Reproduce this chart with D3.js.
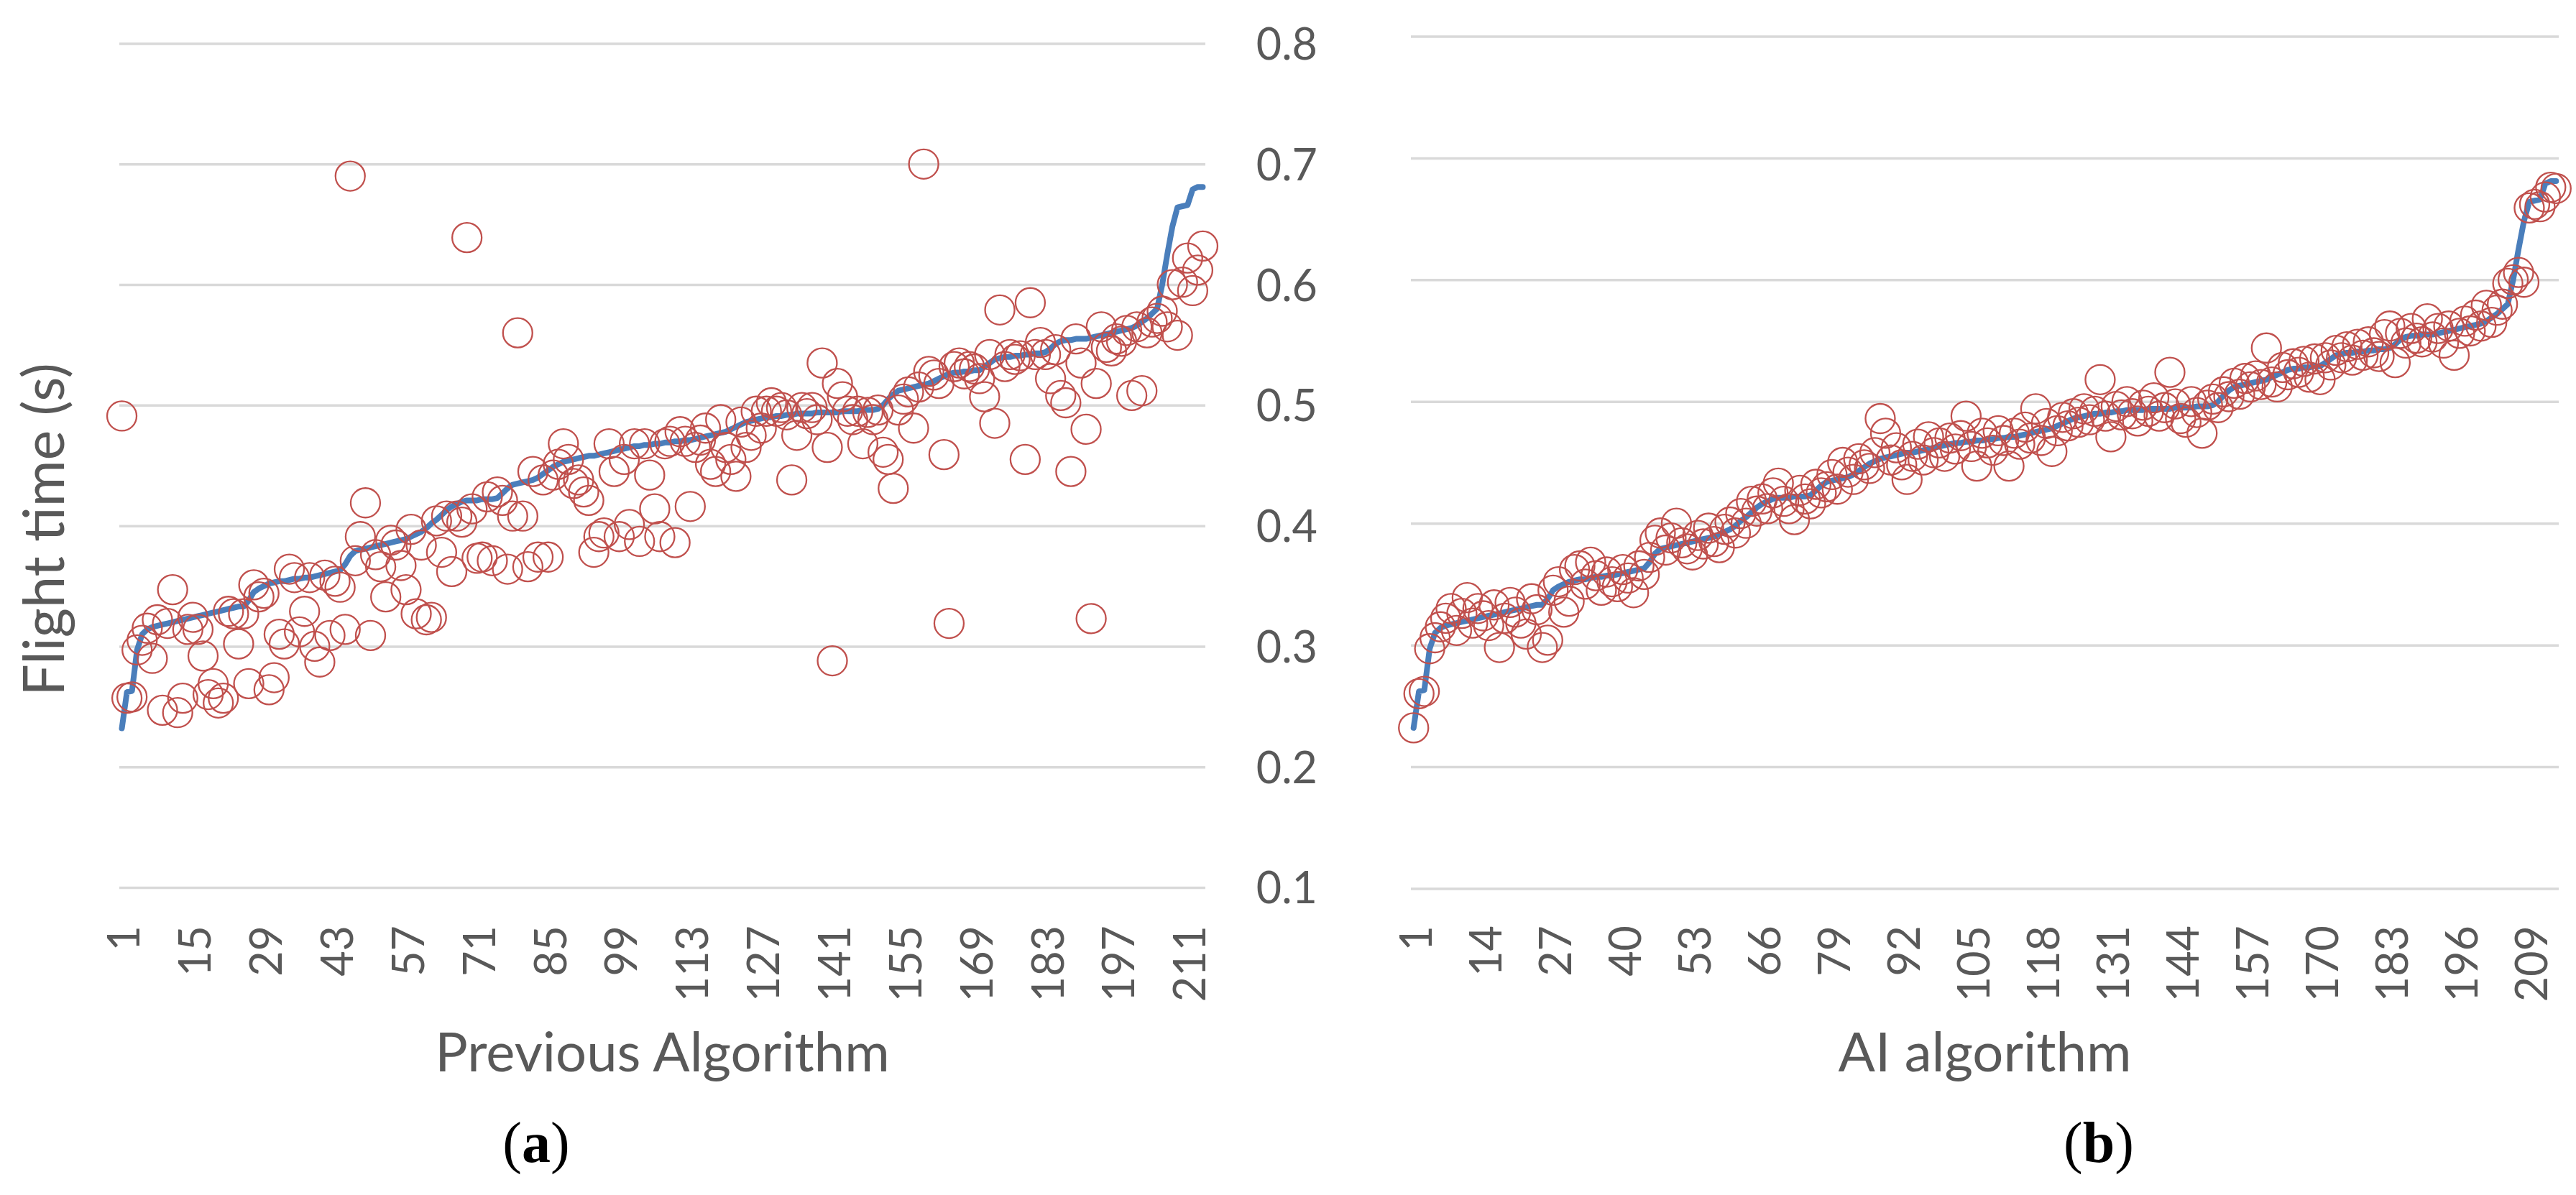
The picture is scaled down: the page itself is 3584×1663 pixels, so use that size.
<!DOCTYPE html>
<html><head><meta charset="utf-8">
<script src="https://cdn.jsdelivr.net/npm/d3@7"></script>
<style>html,body{margin:0;padding:0;background:#fff;} svg{display:block;}</style>
</head><body><svg id="chart" width="3584" height="1663"></svg>
<script>
// ---- data ----
const categories = d3.range(1, 215); // 214 flights
const flightLine = [
0.232,0.262,0.263,0.297,0.310,0.314,0.316,0.317,0.318,0.319,
0.320,0.321,0.322,0.323,0.324,0.325,0.326,0.327,0.328,0.329,
0.330,0.331,0.332,0.333,0.333,0.338,0.345,0.348,0.350,0.352,
0.353,0.354,0.354,0.355,0.356,0.356,0.357,0.357,0.358,0.359,
0.360,0.361,0.362,0.363,0.368,0.375,0.379,0.380,0.381,0.382,
0.383,0.384,0.385,0.386,0.387,0.388,0.389,0.391,0.393,0.395,
0.398,0.402,0.405,0.409,0.413,0.416,0.418,0.420,0.421,0.421,
0.421,0.422,0.422,0.422,0.423,0.427,0.431,0.434,0.435,0.436,
0.437,0.438,0.440,0.443,0.446,0.449,0.451,0.453,0.454,0.455,
0.456,0.457,0.458,0.458,0.459,0.460,0.461,0.462,0.463,0.464,
0.465,0.466,0.466,0.467,0.467,0.468,0.468,0.469,0.469,0.470,
0.470,0.471,0.471,0.472,0.473,0.474,0.475,0.476,0.477,0.478,
0.480,0.482,0.484,0.486,0.487,0.488,0.489,0.490,0.490,0.491,
0.491,0.492,0.492,0.493,0.493,0.493,0.493,0.494,0.494,0.494,
0.494,0.494,0.495,0.495,0.495,0.495,0.496,0.496,0.496,0.497,
0.500,0.505,0.509,0.512,0.513,0.514,0.515,0.516,0.517,0.518,
0.520,0.522,0.524,0.526,0.527,0.527,0.528,0.528,0.529,0.529,
0.532,0.535,0.538,0.539,0.540,0.540,0.541,0.541,0.542,0.542,
0.543,0.543,0.544,0.547,0.551,0.553,0.554,0.554,0.555,0.555,
0.555,0.556,0.557,0.558,0.559,0.560,0.561,0.562,0.563,0.564,
0.566,0.569,0.572,0.576,0.580,0.600,0.625,0.648,0.664,0.665,
0.666,0.679,0.681,0.681];
const previousAlgorithm = [
0.491,0.257,0.258,0.297,0.305,0.315,0.290,0.322,0.247,0.319,
0.347,0.245,0.257,0.314,0.324,0.314,0.292,0.260,0.269,0.253,
0.257,0.329,0.327,0.302,0.327,0.269,0.351,0.341,0.344,0.264,
0.274,0.310,0.302,0.364,0.357,0.312,0.329,0.357,0.300,0.287,
0.359,0.309,0.354,0.349,0.314,0.690,0.371,0.391,0.419,0.309,
0.376,0.366,0.341,0.388,0.384,0.367,0.347,0.397,0.327,0.384,
0.322,0.324,0.404,0.378,0.408,0.362,0.408,0.403,0.639,0.414,
0.373,0.374,0.424,0.371,0.428,0.421,0.364,0.408,0.560,0.408,
0.366,0.445,0.374,0.438,0.374,0.442,0.451,0.468,0.455,0.435,
0.438,0.428,0.421,0.378,0.391,0.394,0.468,0.445,0.391,0.455,
0.401,0.468,0.387,0.468,0.442,0.414,0.391,0.468,0.470,0.386,
0.478,0.470,0.416,0.465,0.471,0.481,0.451,0.445,0.488,0.465,
0.455,0.441,0.486,0.465,0.475,0.495,0.481,0.495,0.502,0.495,
0.498,0.492,0.438,0.475,0.498,0.493,0.498,0.488,0.535,0.465,
0.288,0.518,0.507,0.495,0.488,0.495,0.468,0.494,0.488,0.496,
0.461,0.455,0.431,0.496,0.505,0.511,0.481,0.515,0.700,0.528,
0.525,0.518,0.459,0.319,0.532,0.535,0.526,0.532,0.530,0.522,
0.507,0.542,0.485,0.579,0.532,0.542,0.538,0.541,0.455,0.585,
0.542,0.552,0.542,0.522,0.546,0.508,0.502,0.445,0.555,0.535,
0.480,0.323,0.518,0.565,0.548,0.545,0.555,0.553,0.562,0.508,
0.565,0.512,0.560,0.569,0.572,0.578,0.565,0.600,0.558,0.602,
0.622,0.595,0.612,0.632];
const aiAlgorithm = [
0.232,0.260,0.262,0.297,0.306,0.315,0.322,0.330,0.312,0.326,
0.339,0.318,0.330,0.324,0.316,0.333,0.298,0.322,0.335,0.327,
0.318,0.309,0.338,0.329,0.298,0.304,0.345,0.352,0.327,0.336,
0.362,0.365,0.350,0.368,0.357,0.345,0.360,0.352,0.348,0.362,
0.355,0.343,0.365,0.358,0.372,0.386,0.392,0.378,0.388,0.400,
0.384,0.379,0.374,0.390,0.383,0.396,0.385,0.380,0.395,0.401,
0.392,0.408,0.400,0.418,0.410,0.420,0.412,0.425,0.433,0.418,
0.412,0.403,0.427,0.420,0.416,0.432,0.425,0.430,0.440,0.428,
0.450,0.442,0.436,0.453,0.448,0.445,0.458,0.486,0.474,0.452,
0.462,0.448,0.436,0.455,0.465,0.452,0.471,0.458,0.466,0.455,
0.470,0.461,0.472,0.488,0.463,0.447,0.474,0.466,0.460,0.476,
0.468,0.447,0.474,0.465,0.479,0.470,0.494,0.468,0.482,0.459,
0.476,0.487,0.480,0.490,0.483,0.494,0.485,0.492,0.518,0.488,
0.471,0.496,0.489,0.500,0.490,0.484,0.497,0.492,0.503,0.488,
0.495,0.524,0.498,0.486,0.483,0.500,0.491,0.474,0.497,0.502,
0.495,0.508,0.504,0.515,0.506,0.519,0.512,0.521,0.514,0.544,
0.516,0.512,0.528,0.522,0.531,0.524,0.533,0.520,0.535,0.518,
0.536,0.530,0.542,0.536,0.545,0.534,0.547,0.538,0.549,0.540,
0.537,0.555,0.562,0.532,0.556,0.548,0.560,0.552,0.549,0.568,
0.553,0.560,0.548,0.562,0.538,0.556,0.566,0.558,0.571,0.562,
0.579,0.565,0.575,0.580,0.597,0.600,0.606,0.598,0.659,0.662,
0.660,0.668,0.676,0.675];
const yTickValues = [0.1,0.2,0.3,0.4,0.5,0.6,0.7,0.8];
const previousTickLabels = [1,15,29,43,57,71,85,99,113,127,141,155,169,183,197,211];
const aiTickLabels = [1,14,27,40,53,66,79,92,105,118,131,144,157,170,183,196,209];

// ---- drawing ----
const svg = d3.select("#chart");
svg.append("rect").attr("width",3584).attr("height",1663).attr("fill","#fff");
const TXT = "#595959";
const sansFont = "Lato, 'Open Sans', sans-serif";

function drawPanel(cfg){
  const x = d3.scaleBand().domain(categories).range([cfg.x0, cfg.x1]).paddingInner(0).paddingOuter(0);
  const y = d3.scaleLinear().domain([0.1, 0.8]).range([cfg.yBottom, cfg.yTop]);
  const bw = x.bandwidth();
  const g = svg.append("g");

  // gridlines
  const grid = g.append("g").attr("transform", `translate(${cfg.x0},0)`)
    .call(d3.axisLeft(y).tickValues(yTickValues).tickSize(-(cfg.x1-cfg.x0)).tickFormat(""));
  grid.select(".domain").remove();
  grid.selectAll("line").attr("stroke","#D9D9D9").attr("stroke-width",3.5);

  // x axis labels (rotated)
  const xa = g.append("g").attr("transform", `translate(0,${cfg.yBottom})`)
    .call(d3.axisBottom(x).tickValues(cfg.ticks).tickSize(0).tickPadding(0));
  xa.select(".domain").remove();
  xa.selectAll("text")
    .attr("transform","rotate(-90)")
    .attr("text-anchor","end")
    .attr("x", -(1288 - cfg.yBottom))
    .attr("y", 3)
    .attr("dy","0.36em")
    .attr("font-family", sansFont).attr("font-size", 61).attr("fill", TXT);

  // blue line
  const line = d3.line().x((d,i)=>x(categories[i]) + bw/2).y(d=>y(d));
  g.append("path").datum(flightLine).attr("d", line)
    .attr("fill","none").attr("stroke","#4A7EBB").attr("stroke-width",8)
    .attr("stroke-linejoin","round").attr("stroke-linecap","round");

  // red circles
  g.append("g").selectAll("circle").data(cfg.values).join("circle")
    .attr("cx",(d,i)=>x(categories[i]) + bw/2).attr("cy",d=>y(d))
    .attr("r",20.5).attr("fill","none").attr("stroke","#C0504D").attr("stroke-width",2.3);

  // x title
  g.append("text").attr("x",(cfg.x0+cfg.x1)/2).attr("y",1491)
    .attr("text-anchor","middle").attr("font-family",sansFont).attr("font-size",76)
    .attr("fill",TXT).text(cfg.title);

  // panel letter
  const t = g.append("text").attr("x",cfg.letterX).attr("y",1617).attr("text-anchor","middle")
    .attr("font-family","'Liberation Serif','Times New Roman',serif").attr("font-size",80).attr("fill","#000");
  t.append("tspan").text("(");
  t.append("tspan").attr("font-weight","bold").text(cfg.letter);
  t.append("tspan").text(")");
  return {x, y};
}

const left = drawPanel({x0:166, x1:1677, yBottom:1235, yTop:60.5, values:previousAlgorithm,
  ticks:previousTickLabels, title:"Previous Algorithm", letter:"a", letterX:746});
const right = drawPanel({x0:1963, x1:3560, yBottom:1236.5, yTop:50.5, values:aiAlgorithm,
  ticks:aiTickLabels, title:"AI algorithm", letter:"b", letterX:2920});

// shared value axis labels (between panels)
const ya = svg.append("g").attr("transform","translate(1833,0)")
  .call(d3.axisLeft(left.y).tickValues(yTickValues).tickSize(0).tickPadding(0).tickFormat(d3.format(".1f")));
ya.select(".domain").remove();
ya.selectAll("text").attr("font-family",sansFont).attr("font-size",61).attr("fill",TXT).attr("dy","0.36em");

// y title
svg.append("text").attr("transform","translate(89,737) rotate(-90)")
  .attr("text-anchor","middle").attr("font-family",sansFont).attr("font-size",79)
  .attr("fill",TXT).text("Flight time (s)");
</script></body></html>
